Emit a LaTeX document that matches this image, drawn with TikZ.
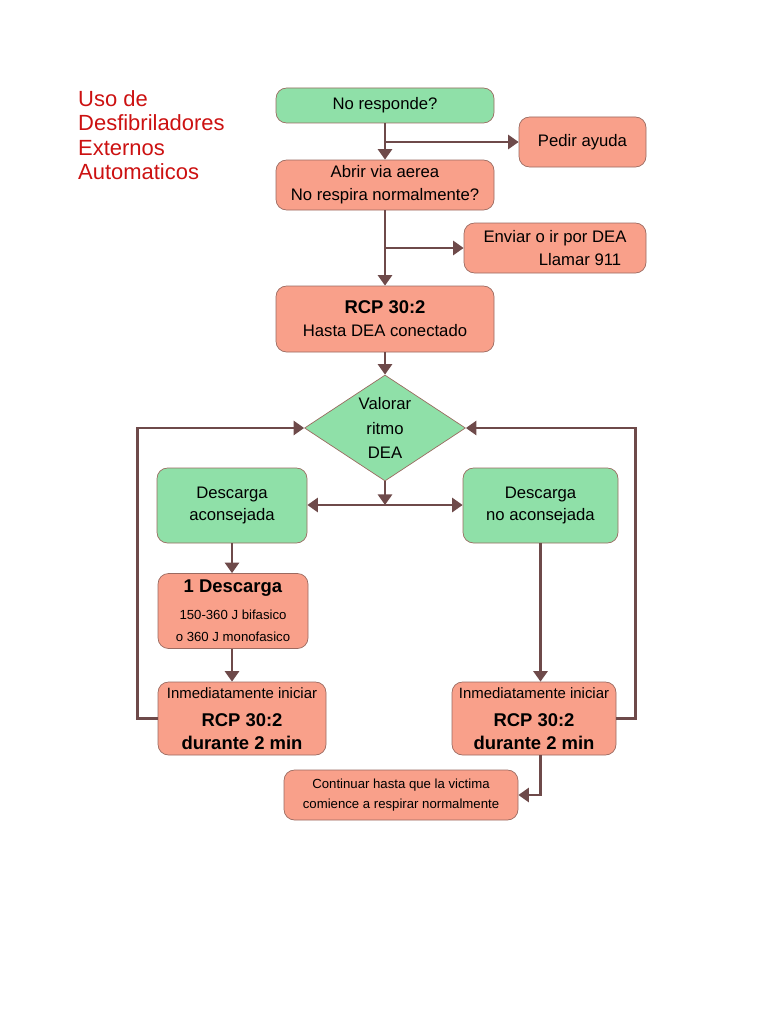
\documentclass[tikz,border=0pt]{standalone}
\usepackage{fontspec}
\setmainfont{Liberation Sans}
\usetikzlibrary{arrows.meta}
\usetikzlibrary{shapes.geometric}

\definecolor{verde}{HTML}{8FE0A8}
\definecolor{salmon}{HTML}{F9A08A}
\definecolor{borde}{HTML}{9A6A60}
\definecolor{flecha}{HTML}{6E4A4A}
\definecolor{titulo}{HTML}{CC1111}

\begin{document}
\begin{tikzpicture}[x=0.02cm,y=-0.02cm]

\tikzset{
    caja/.style = {
    draw=borde, rounded corners=6pt, align=center, inner sep=1pt,
    font=\fontsize{9.5}{13}\selectfont
    }
}

\tikzstyle{verdebox}=[caja, fill=verde]
\tikzstyle{rojobox}=[caja, fill=salmon]
\tikzstyle{flujo}=[draw=flecha, line width=1.6pt, -{Triangle[length=6pt,width=8pt]}]
\tikzstyle{linea}=[draw=flecha, line width=1.6pt]

\useasboundingbox (0,0) rectangle (768,1024);

\node[anchor=north west, align=left, text=titulo, font=\fontsize{12.5}{14}\selectfont] (titulo) at (72,84)
    {Uso de\\Desfibriladores\\Externos\\Automaticos};

\node (noresp) [verdebox, minimum width=218*0.02cm, minimum height=35*0.02cm] at (385,105.5) {No responde?};
\node (pedir) [rojobox, minimum width=127*0.02cm, minimum height=50*0.02cm] at (582.5,142) {Pedir ayuda};
\node (abrir) [rojobox, minimum width=218*0.02cm, minimum height=50*0.02cm] at (385,185) {Abrir via aerea\\No respira normalmente?};
\node (enviar) [rojobox, minimum width=182*0.02cm, minimum height=50*0.02cm] at (555,248) {Enviar o ir por DEA\\\hspace*{3em}Llamar 911};
\node (rcp) [rojobox, minimum width=218*0.02cm, minimum height=66*0.02cm] at (385,319) {\textbf{\fontsize{10.5}{13}\selectfont RCP 30:2}\\Hasta DEA conectado};
\node (valorar) [diamond, draw=borde, fill=verde, align=center, inner sep=0pt, aspect=1.52,
    minimum width=161*0.02cm, minimum height=106*0.02cm, font=\fontsize{9.5}{14}\selectfont] at (385,428) {Valorar\\ritmo\\DEA};
\node (desc1) [verdebox, minimum width=150*0.02cm, minimum height=75*0.02cm] at (232,505.5) {Descarga\\aconsejada};
\node (desc2) [verdebox, minimum width=155*0.02cm, minimum height=75*0.02cm] at (540.5,505.5) {Descarga\\no aconsejada};
\node (uno) [rojobox, minimum width=150*0.02cm, minimum height=75*0.02cm] at (233,611)
    {\textbf{\fontsize{10.5}{14}\selectfont 1 Descarga}\\[2pt]{\fontsize{7.5}{10}\selectfont 150-360 J bifasico}\\{\fontsize{7.5}{10}\selectfont o 360 J monofasico}};
\node (inm1) [rojobox, minimum width=168*0.02cm, minimum height=73*0.02cm] at (242,718.5)
    {{\fontsize{8.5}{11}\selectfont Inmediatamente iniciar}\\[3pt]\textbf{\fontsize{10.5}{12}\selectfont RCP 30:2}\\\textbf{\fontsize{10.5}{12}\selectfont durante 2 min}};
\node (inm2) [rojobox, minimum width=164*0.02cm, minimum height=73*0.02cm] at (534,718.5)
    {{\fontsize{8.5}{11}\selectfont Inmediatamente iniciar}\\[3pt]\textbf{\fontsize{10.5}{12}\selectfont RCP 30:2}\\\textbf{\fontsize{10.5}{12}\selectfont durante 2 min}};
\node (cont) [rojobox, minimum width=234*0.02cm, minimum height=50*0.02cm, font=\fontsize{7.5}{11}\selectfont] at (401,795)
    {Continuar hasta que la victima\\comience a respirar normalmente};

\coordinate (ramaA) at (385,142);
\coordinate (ramaB) at (385,248);
\coordinate (ramaC) at (385,505);

\draw[flujo] (noresp.south) -- (abrir.north);
\draw[flujo] (ramaA) -- (pedir.west);
\draw[flujo] (abrir.south) -- (rcp.north);
\draw[flujo] (ramaB) -- (enviar.west);
\draw[flujo] (rcp.south) -- (valorar.north);
\draw[flujo] (valorar.south) -- (ramaC);
\draw[flujo] (ramaC) -- (desc1.east |- ramaC);
\draw[flujo] (ramaC) -- (desc2.west |- ramaC);
\draw[flujo] (desc1.south) -- (uno.north -| desc1.south);
\draw[flujo] (uno.south -| desc1.south) -- (inm1.north -| desc1.south);
\draw[flujo] (desc2.south) -- (inm2.north -| desc2.south);
\draw[flujo] (inm2.south -| desc2.south) |- (cont.east);
\draw[flujo] (inm1.west) -- ++(-20,0) |- (valorar.west);
\draw[flujo] (inm2.east) -- ++(19,0) |- (valorar.east);

\end{tikzpicture}
\end{document}
